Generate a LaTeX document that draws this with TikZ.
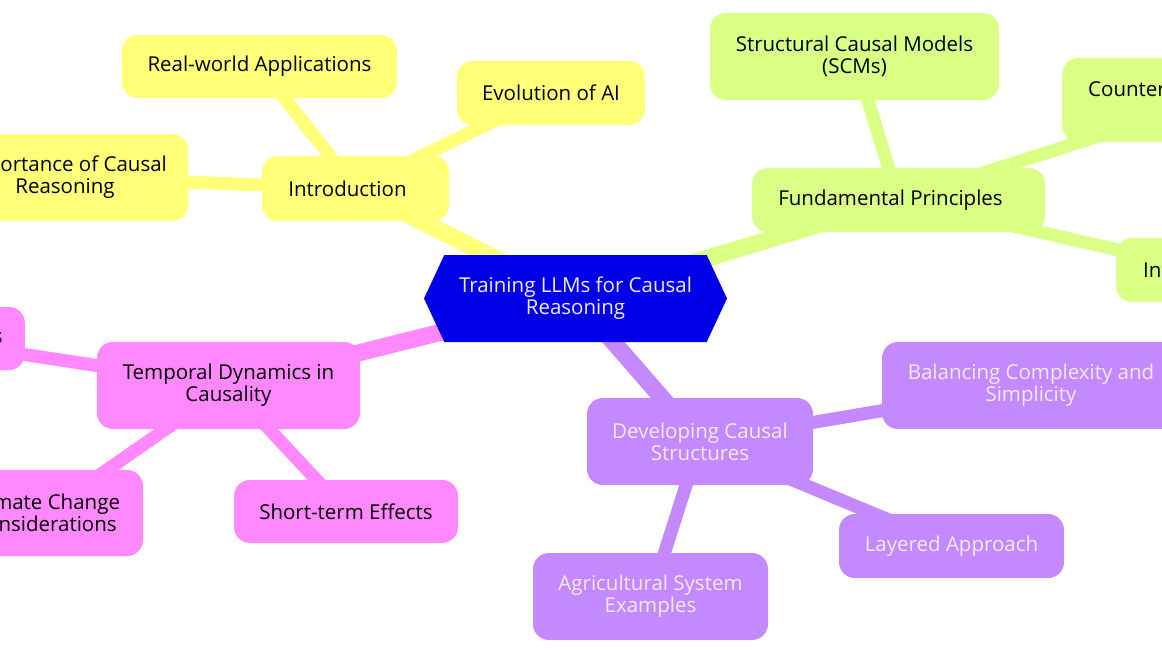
\documentclass[tikz,border=0pt]{standalone}
\usepackage{fontspec}
\setmainfont{Open Sans}
\usetikzlibrary{shapes.symbols}
\pgfdeclarelayer{edges}
\pgfsetlayers{edges,main}
\definecolor{cyel}{HTML}{FFFF78}
\definecolor{cgrn}{HTML}{DAFF85}
\definecolor{cpnk}{HTML}{FF88FF}
\definecolor{cpur}{HTML}{C488FF}
\definecolor{croot}{HTML}{0000E6}
\definecolor{ctxtl}{HTML}{F2EBFF}
\tikzset{
  box/.style={rounded corners=16pt, inner sep=0pt, align=center,
    font=\fontsize{20.5}{22}\selectfont, text=black},
  ybox/.style={box, fill=cyel},
  gbox/.style={box, fill=cgrn},
  pbox/.style={box, fill=cpnk},
  ubox/.style={box, fill=cpur, text=ctxtl},
  rootbox/.style={signal, signal to=west and east, signal pointer angle=130,
    fill=croot, text=ctxtl, inner sep=0pt, align=center,
    font=\fontsize{20.5}{22}\selectfont},
  rootedge/.style={line width=17pt},
  childedge/.style={line width=13pt},
}
\begin{document}
\begin{tikzpicture}[x=1pt,y=-1pt]
\useasboundingbox (0,0) rectangle (1162,654);
% root
\node[rootbox, minimum width=303pt, minimum height=87pt] (root) at (575.5,298.5) {Training LLMs for Causal\\Reasoning};
% yellow
\node[ybox, minimum width=187pt, minimum height=65pt] (intro) at (355.5,188.5) {\hspace*{-16pt}Introduction};
\node[ybox, minimum width=275pt, minimum height=63pt] (real) at (259.5,66.5) {Real-world Applications};
\node[ybox, minimum width=188pt, minimum height=64pt] (evo) at (551,93) {Evolution of AI};
\node[ybox, minimum width=246pt, minimum height=87pt] (imp) at (65,177.5) {Importance of Causal\\Reasoning};
% green
\node[gbox, minimum width=293pt, minimum height=64pt] (fund) at (898.5,200) {\hspace*{-16pt}Fundamental Principles};
\node[gbox, minimum width=289pt, minimum height=87pt] (scm) at (854.5,56.5) {Structural Causal Models\\(SCMs)};
\node[gbox, minimum height=84pt, anchor=west, inner xsep=26pt] (cf) at (1062,100) {Counterfactual Reasoning\\Models};
\node[gbox, minimum height=64pt, anchor=west, inner xsep=27pt] (int) at (1116,270) {Interventions};
% pink
\node[pbox, minimum width=263pt, minimum height=87pt] (temp) at (228.5,385.5) {Temporal Dynamics in\\Causality};
\node[pbox, minimum height=63pt, anchor=east, inner xsep=22pt] (long) at (25,338.5) {Long-term Effects};
\node[pbox, minimum width=196pt, minimum height=86pt] (clim) at (45,513) {Climate Change\\Considerations};
\node[pbox, minimum width=224pt, minimum height=63pt] (short) at (346,511.5) {Short-term Effects};
% purple
\node[ubox, minimum width=226pt, minimum height=87pt] (dev) at (700,441.5) {Developing Causal\\Structures};
\node[ubox, minimum width=298pt, minimum height=87pt] (bal) at (1031,385.5) {Balancing Complexity and\\Simplicity};
\node[ubox, minimum width=225pt, minimum height=64pt] (lay) at (951.5,546) {Layered Approach};
\node[ubox, minimum width=235pt, minimum height=87pt] (agr) at (650.5,596.5) {Agricultural System\\Examples};
% edges
\begin{pgfonlayer}{edges}
\draw[rootedge, cyel] (root.center) -- (intro.center);
\draw[rootedge, cgrn] (root.center) -- (fund.center);
\draw[rootedge, cpnk] (root.center) -- (temp.center);
\draw[rootedge, cpur] (root.center) -- (dev.center);
\draw[childedge, cyel] (intro.center) -- (real.center);
\draw[childedge, cyel] (intro.center) -- (evo.center);
\draw[childedge, cyel] (intro.center) -- (imp.center);
\draw[childedge, cgrn] (fund.center) -- (scm.center);
\draw[childedge, cgrn] (fund.center) -- (cf.center);
\draw[childedge, cgrn] (fund.center) -- (int.center);
\draw[childedge, cpnk] (temp.center) -- (long.center);
\draw[childedge, cpnk] (temp.center) -- (clim.center);
\draw[childedge, cpnk] (temp.center) -- (short.center);
\draw[childedge, cpur] (dev.center) -- (bal.center);
\draw[childedge, cpur] (dev.center) -- (lay.center);
\draw[childedge, cpur] (dev.center) -- (agr.center);
\end{pgfonlayer}
\end{tikzpicture}
\end{document}
